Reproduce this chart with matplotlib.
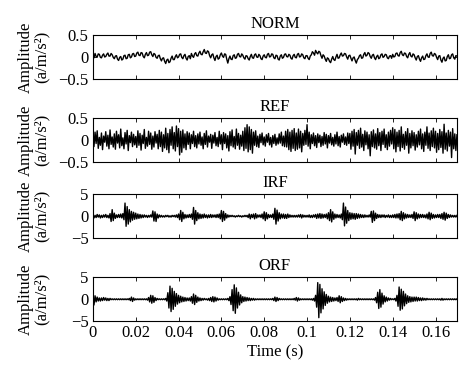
import matplotlib
matplotlib.use("Agg")
import matplotlib.pyplot as plt
import numpy as np

plt.rcParams['font.family'] = ['Liberation Serif', 'DejaVu Serif']

dt = 0.0005

norm = [0.03, -0.02, 0.08, 0.01, 0.00, 0.07, 0.06, -0.01, -0.02, 0.04, 0.07, 0.00, 0.01, 0.06, 0.09, 0.02, 0.02, 0.08, 0.05, -0.01,
        -0.04, 0.02, 0.03, -0.05, -0.08, -0.01, 0.01, -0.07, -0.05, 0.03, 0.04, -0.04, -0.03, 0.05, 0.06, -0.02, 0.00, 0.07, 0.08, 0.01,
        0.02, 0.09, 0.11, 0.04, 0.03, 0.10, 0.09, 0.01, -0.02, 0.06, 0.10, 0.03, 0.04, 0.11, 0.12, 0.05, 0.01, 0.08, 0.06, -0.01,
        -0.03, 0.03, 0.04, -0.04, -0.09, -0.03, -0.02, -0.10, -0.15, -0.07, -0.05, -0.13, -0.11, -0.03, 0.02, -0.06, -0.06, 0.01, 0.05, -0.02,
        0.00, 0.06, 0.07, -0.01, -0.04, 0.03, 0.06, -0.03, -0.07, 0.01, 0.03, -0.04, 0.08, 0.02, -0.01, 0.07, 0.10, 0.03, 0.02, 0.09,
        0.13, 0.06, 0.05, 0.12, 0.17, 0.09, 0.08, 0.14, 0.12, 0.03, -0.02, 0.05, 0.07, -0.02, -0.08, 0.01, 0.04, -0.05, -0.03, 0.05,
        0.09, 0.02, -0.01, 0.07, 0.06, -0.05, -0.14, -0.04, 0.02, -0.05, -0.06, 0.03, 0.05, -0.03, -0.02, 0.06, 0.08, 0.01, 0.00, 0.07,
        0.04, -0.02, -0.05, 0.03, 0.02, -0.04, -0.07, 0.01, 0.06, -0.02, -0.03, 0.05, 0.07, 0.00, -0.01, 0.06, 0.03, -0.04, -0.06, 0.02,
        0.05, -0.01, -0.02, 0.06, 0.08, 0.00, 0.01, 0.07, 0.06, -0.02, -0.04, 0.04, 0.03, -0.05, -0.07, 0.02, 0.05, -0.03, -0.01, 0.06,
        0.07, 0.01, 0.00, 0.06, 0.04, -0.03, -0.05, 0.03, 0.06, -0.01, -0.02, 0.06, 0.08, 0.00, 0.01, 0.07, 0.05, -0.02, -0.04, 0.03,
        0.03, -0.03, -0.06, 0.02, 0.05, 0.12, 0.09, 0.04, 0.15, 0.10, 0.07, 0.13, 0.11, 0.03, -0.03, 0.05, 0.02, -0.05, -0.10, -0.02,
        -0.04, -0.10, -0.13, -0.05, 0.01, -0.06, -0.08, 0.00, 0.06, -0.03, -0.02, 0.05, 0.09, 0.02, 0.03, 0.08, 0.07, 0.00, -0.05, 0.03,
        0.04, -0.03, -0.09, -0.02, 0.00, -0.08, -0.14, -0.06, -0.03, 0.03, 0.05, -0.03, -0.02, 0.06, 0.10, 0.02, 0.04, 0.10, 0.08, 0.01,
        -0.03, 0.04, 0.06, -0.02, -0.06, 0.01, 0.04, -0.04, -0.02, 0.05, 0.07, -0.01, 0.01, 0.06, 0.05, -0.02, -0.04, 0.02, 0.03, -0.03,
        0.06, 0.00, 0.01, 0.08, 0.09, 0.03, 0.02, 0.10, 0.13, 0.05, 0.03, 0.09, 0.08, 0.01, -0.02, 0.06, 0.10, 0.02, 0.00, 0.07,
        0.05, -0.02, -0.07, 0.01, 0.03, -0.05, -0.10, -0.02, 0.02, -0.06, -0.05, 0.03, 0.07, 0.00, -0.01, 0.08, 0.11, 0.03, 0.02, 0.08,
        0.06, -0.01, -0.06, 0.02, 0.03, -0.07, -0.12, -0.03, 0.00, -0.09, -0.08, 0.01, 0.05, -0.04, -0.03, 0.05, 0.07, -0.02, -0.05, 0.03,
        0.02]

ref = [0.12, -0.15, 0.18, -0.08, 0.21, -0.19, 0.06, -0.12, 0.16, -0.22, 0.09, -0.05, 0.19, -0.14, 0.11, -0.2, 0.23, -0.1, 0.07, -0.16,
       0.14, -0.21, 0.2, -0.07, 0.12, -0.18, 0.25, -0.13, 0.05, -0.2, 0.17, -0.09, 0.22, -0.24, 0.1, -0.06, 0.18, -0.15, 0.13, -0.11,
       0.08, -0.17, 0.21, -0.12, 0.15, -0.23, 0.11, -0.08, 0.24, -0.19, 0.06, -0.14, 0.2, -0.1, 0.16, -0.21, 0.09, -0.16, 0.19, -0.07,
       0.13, -0.2, 0.22, -0.15, 0.18, -0.26, 0.12, -0.18, 0.27, -0.22, 0.15, -0.29, 0.24, -0.12, 0.3, -0.2, 0.17, -0.25, 0.32, -0.15,
       0.26, -0.34, 0.2, -0.28, 0.23, -0.18, 0.14, -0.22, 0.19, -0.1, 0.16, -0.2, 0.12, -0.08, 0.2, -0.15, 0.1, -0.18, 0.14, -0.09,
       0.18, -0.12, 0.07, -0.2, 0.15, -0.1, 0.21, -0.16, 0.09, -0.05, 0.13, -0.19, 0.11, -0.07, 0.17, -0.13, 0.06, -0.15, 0.2, -0.09,
       0.12, -0.22, 0.17, -0.08, 0.14, -0.18, 0.1, -0.25, 0.19, -0.13, 0.23, -0.16, 0.08, -0.2, 0.25, -0.12, 0.15, -0.21, 0.11, -0.14,
       0.2, -0.24, 0.28, -0.19, 0.35, -0.27, 0.3, -0.22, 0.24, -0.3, 0.18, -0.12, 0.21, -0.15, 0.09, -0.17, 0.13, -0.06, 0.16, -0.11,
       0.07, -0.14, 0.12, -0.05, 0.15, -0.11, 0.06, -0.16, 0.1, -0.08, 0.13, -0.12, 0.05, -0.09, 0.14, -0.07, 0.18, -0.13, 0.09, -0.15,
       0.2, -0.16, 0.24, -0.22, 0.18, -0.26, 0.22, -0.19, 0.26, -0.24, 0.16, -0.21, 0.25, -0.18, 0.2, -0.27, 0.15, -0.12, 0.22, -0.1,
       0.35, -0.14, 0.18, -0.2, 0.12, -0.08, 0.16, -0.13, 0.1, -0.17, 0.14, -0.06, 0.11, -0.15, 0.08, -0.12, 0.17, -0.09, 0.13, -0.18,
       0.1, -0.07, 0.15, -0.11, 0.06, -0.14, 0.12, -0.09, 0.18, -0.13, 0.08, -0.16, 0.11, -0.05, 0.14, -0.1, 0.07, -0.12, 0.16, -0.08,
       0.15, -0.21, 0.2, -0.14, 0.24, -0.32, 0.17, -0.12, 0.22, -0.19, 0.27, -0.16, 0.13, -0.24, 0.21, -0.11, 0.18, -0.2, 0.12, -0.36,
       0.19, -0.15, 0.23, -0.18, 0.14, -0.21, 0.26, -0.13, 0.17, -0.24, 0.2, -0.1, 0.25, -0.17, 0.12, -0.22, 0.18, -0.14, 0.22, -0.09,
       0.28, -0.2, 0.24, -0.27, 0.18, -0.15, 0.22, -0.25, 0.3, -0.17, 0.13, -0.21, 0.19, -0.12, 0.26, -0.3, 0.15, -0.18, 0.21, -0.13,
       0.17, -0.23, 0.12, -0.16, 0.2, -0.11, 0.25, -0.2, 0.14, -0.26, 0.18, -0.12, 0.3, -0.19, 0.16, -0.24, 0.21, -0.15, 0.27, -0.18,
       0.2, -0.28, 0.15, -0.22, 0.24, -0.17, 0.19, -0.3, 0.36, -0.21, 0.16, -0.25, 0.22, -0.14, 0.18, -0.4, 0.26, -0.2, 0.14, -0.24,
       0.12]

irf = [0.3, -0.4, 0.2, -0.3, 0.4, -0.2, 0.3, -0.4, 0.2, -0.3, 0.3, -0.2, 0.4, -0.3, 0.2, -0.4, 0.6, -1.2, 1.5, -1.0,
       0.7, -0.5, 0.3, -0.3, 0.4, -0.3, 0.5, -0.4, 0.6, -0.8, 3.0, -2.3, 2.2, -1.8, 1.5, -1.3, 1.1, -0.9, 0.9, -0.7,
       0.7, -0.6, 0.5, -0.5, 0.4, -0.4, 0.3, -0.3, 0.3, -0.2, 0.2, -0.3, 0.2, -0.2, 0.3, -0.2, 1.2, -1.1, 1.0, -1.2,
       0.5, -0.4, 0.3, -0.2, 0.2, -0.2, 0.1, -0.2, 0.2, -0.1, 0.2, -0.2, 0.1, -0.2, 0.2, -0.1, 0.2, -0.2, 0.3, -0.3,
       0.5, -0.8, 1.3, -1.2, 0.9, -0.6, 0.4, -0.4, 0.3, -0.3, 0.4, -0.3, 0.5, -0.7, 2.0, -1.8, 1.3, -1.0, 0.8, -0.6,
       0.5, -0.5, 0.4, -0.4, 0.5, -0.3, 0.3, -0.4, 0.3, -0.3, 0.4, -0.3, 0.3, -0.2, 0.3, -0.3, 0.4, -0.3, 0.5, -0.6,
       1.3, -1.2, 1.1, -0.9, 0.6, -0.4, 0.3, -0.2, 0.2, -0.1, 0.2, -0.1, 0.1, -0.2, 0.1, -0.1, 0.2, -0.1, 0.1, -0.2,
       0.1, -0.1, 0.2, -0.1, 0.2, -0.3, 0.5, -0.6, 0.4, -0.3, 0.5, -0.6, 0.6, -0.4, 0.3, -0.2, 0.3, -0.3, 0.5, -0.6,
       1.0, -1.0, 0.8, -0.6, 0.4, -0.3, 0.3, -0.3, 0.5, -0.7, 1.8, -1.8, 1.4, -1.1, 0.8, -0.6, 0.5, -0.4, 0.5, -0.5,
       0.4, -0.5, 0.5, -0.3, 0.3, -0.2, 0.2, -0.2, 0.2, -0.2, 0.2, -0.2, 0.3, -0.2, 0.4, -0.4, 0.3, -0.2, 0.2, -0.2,
       0.2, -0.2, 0.3, -0.3, 0.2, -0.3, 0.3, -0.2, 0.4, -0.5, 0.5, -0.4, 0.6, -0.5, 0.5, -0.4, 0.4, -0.3, 0.5, -0.6,
       0.8, -1.0, 1.5, -1.3, 1.0, -0.7, 0.5, -0.4, 0.4, -0.3, 0.3, -0.4, 0.5, -0.8, 3.0, -2.2, 2.1, -1.6, 1.3, -1.0,
       0.8, -0.7, 0.7, -0.6, 0.6, -0.7, 0.6, -0.5, 0.5, -0.4, 0.4, -0.3, 0.3, -0.3, 0.3, -0.2, 0.2, -0.2, 0.3, -0.2,
       1.1, -1.4, 1.2, -1.0, 0.7, -0.5, 0.4, -0.3, 0.3, -0.3, 0.3, -0.2, 0.3, -0.3, 0.2, -0.2, 0.3, -0.3, 0.2, -0.3,
       0.3, -0.3, 0.4, -0.4, 0.5, -0.4, 0.6, -0.8, 1.1, -1.0, 0.8, -0.6, 0.5, -0.4, 0.4, -0.3, 0.3, -0.3, 0.4, -0.5,
       1.0, -1.0, 0.8, -0.6, 0.5, -0.4, 0.4, -0.3, 0.4, -0.3, 0.3, -0.4, 0.5, -0.6, 0.9, -0.8, 0.7, -0.5, 0.4, -0.4,
       0.3, -0.3, 0.4, -0.3, 0.4, -0.5, 0.6, -0.7, 0.9, -0.9, 0.7, -0.5, 0.4, -0.3, 0.3, -0.2, 0.2, -0.2, 0.2, -0.2,
       0.2]

orf = [0.9, -1.3, 0.8, -0.6, 0.5, -0.4, 0.3, -0.4, 0.3, -0.3, 0.4, -0.2, 0.3, -0.3, 0.2, -0.3, 0.2, -0.1, 0.1, -0.1,
       0.1, -0.1, 0.1, -0.1, 0.1, -0.1, 0.1, -0.1, 0.1, -0.1, 0.1, -0.1, 0.1, -0.1, 0.2, -0.3, 0.5, -0.5, 0.3, -0.2,
       0.1, -0.1, 0.1, -0.1, 0.1, -0.1, 0.1, -0.1, 0.1, -0.1, 0.1, -0.2, 0.4, -0.6, 0.9, -0.9, 0.8, -0.7, 0.4, -0.3,
       0.2, -0.1, 0.1, -0.1, 0.1, -0.1, 0.1, -0.1, 0.2, -0.4, 1.5, -2.0, 3.0, -2.8, 2.5, -2.3, 1.8, -1.6, 1.3, -1.1,
       0.9, -0.8, 0.7, -0.6, 0.5, -0.5, 0.4, -0.4, 0.3, -0.3, 0.3, -0.4, 0.6, -0.9, 1.2, -1.2, 0.9, -0.7, 0.5, -0.4,
       0.3, -0.3, 0.2, -0.2, 0.2, -0.1, 0.1, -0.2, 0.2, -0.3, 0.4, -0.5, 0.6, -0.6, 0.5, -0.4, 0.3, -0.2, 0.1, -0.1,
       0.1, -0.1, 0.1, -0.1, 0.1, -0.1, 0.2, -0.3, 0.6, -1.2, 2.2, -2.6, 3.3, -3.2, 2.6, -2.0, 1.6, -1.3, 1.0, -0.8,
       0.6, -0.5, 0.5, -0.4, 0.4, -0.3, 0.3, -0.3, 0.2, -0.2, 0.2, -0.2, 0.1, -0.1, 0.1, -0.1, 0.1, -0.1, 0.1, -0.1,
       0.1, -0.1, 0.1, -0.1, 0.1, -0.1, 0.1, -0.1, 0.2, -0.3, 0.5, -0.5, 0.4, -0.3, 0.2, -0.1, 0.1, -0.1, 0.1, -0.1,
       0.1, -0.1, 0.1, -0.1, 0.1, -0.1, 0.1, -0.1, 0.2, -0.2, 0.4, -0.4, 0.3, -0.2, 0.1, -0.1, 0.1, -0.1, 0.1, -0.1,
       0.1, -0.1, 0.1, -0.1, 0.1, -0.2, 0.2, -0.4, 0.9, -1.8, 3.8, -4.2, 3.4, -3.1, 2.4, -2.2, 1.7, -1.4, 1.1, -0.9,
       0.7, -0.6, 0.5, -0.5, 0.4, -0.4, 0.3, -0.3, 0.4, -0.5, 0.8, -0.8, 0.6, -0.5, 0.3, -0.3, 0.2, -0.2, 0.1, -0.1,
       0.1, -0.1, 0.1, -0.1, 0.1, -0.1, 0.1, -0.2, 0.2, -0.1, 0.1, -0.1, 0.1, -0.1, 0.1, -0.1, 0.1, -0.1, 0.1, -0.1,
       0.1, -0.1, 0.1, -0.2, 0.4, -0.8, 1.6, -2.1, 2.2, -1.8, 1.4, -1.1, 0.8, -0.6, 0.5, -0.4, 0.3, -0.2, 0.2, -0.1,
       0.1, -0.1, 0.2, -0.4, 0.9, -1.6, 2.8, -2.5, 2.3, -2.2, 1.8, -1.5, 1.2, -1.0, 0.8, -0.7, 0.6, -0.6, 0.5, -0.5,
       0.5, -0.4, 0.5, -0.4, 0.4, -0.3, 0.3, -0.3, 0.3, -0.2, 0.2, -0.2, 0.2, -0.1, 0.1, -0.1, 0.1, -0.1, 0.1, -0.1,
       0.1, -0.1, 0.1, -0.1, 0.1, -0.2, 0.2, -0.2, 0.1, -0.1, 0.1, -0.1, 0.1, -0.1, 0.1, -0.1, 0.1, -0.1, 0.1, -0.1,
       0.1]

titles = ["NORM", "REF", "IRF", "ORF"]
small_ticks = [-0.5, 0, 0.5]
small_labels = ["\u22120.5", "0", "0.5"]
big_ticks = [-5, 0, 5]
big_labels = ["\u22125", "0", "5"]
x_ticks = [0, 0.02, 0.04, 0.06, 0.08, 0.1, 0.12, 0.14, 0.16]
x_labels = ["0", "0.02", "0.04", "0.06", "0.08", "0.1", "0.12", "0.14", "0.16"]

signals = [(norm, small_ticks, small_labels),
           (ref, small_ticks, small_labels),
           (irf, big_ticks, big_labels),
           (orf, big_ticks, big_labels)]

fig = plt.figure(figsize=(4.74, 3.81), dpi=100)

fs = 12
bottoms = [0.793, 0.575, 0.375, 0.157]
for i, (y, yt, yl) in enumerate(signals):
    ax = fig.add_axes([0.196, bottoms[i], 0.768, 0.115])
    t = np.arange(len(y)) * dt
    ax.plot(t, y, color='black', lw=1.0)
    ax.set_xlim(0, 0.17)
    ax.set_ylim(yt[0], yt[-1])
    ax.set_yticks(yt)
    ax.set_yticklabels(yl)
    ax.set_xticks(x_ticks)
    if i == 3:
        ax.set_xticklabels(x_labels)
        ax.set_xlabel("Time (s)", fontsize=fs, labelpad=2)
    else:
        ax.set_xticklabels([])
    ax.tick_params(direction='in', length=3, width=0.6, top=True, right=True,
                   labelsize=fs, pad=3)
    for s in ax.spines.values():
        s.set_linewidth(0.8)
    ax.set_title(titles[i], fontsize=fs, pad=5)
    ax.set_ylabel("Amplitude\n(a/m/s\u00b2)", fontsize=fs, linespacing=1.0)
    ax.yaxis.set_label_coords(-0.118, 0.5)

fig.savefig("out.png", dpi=100)
